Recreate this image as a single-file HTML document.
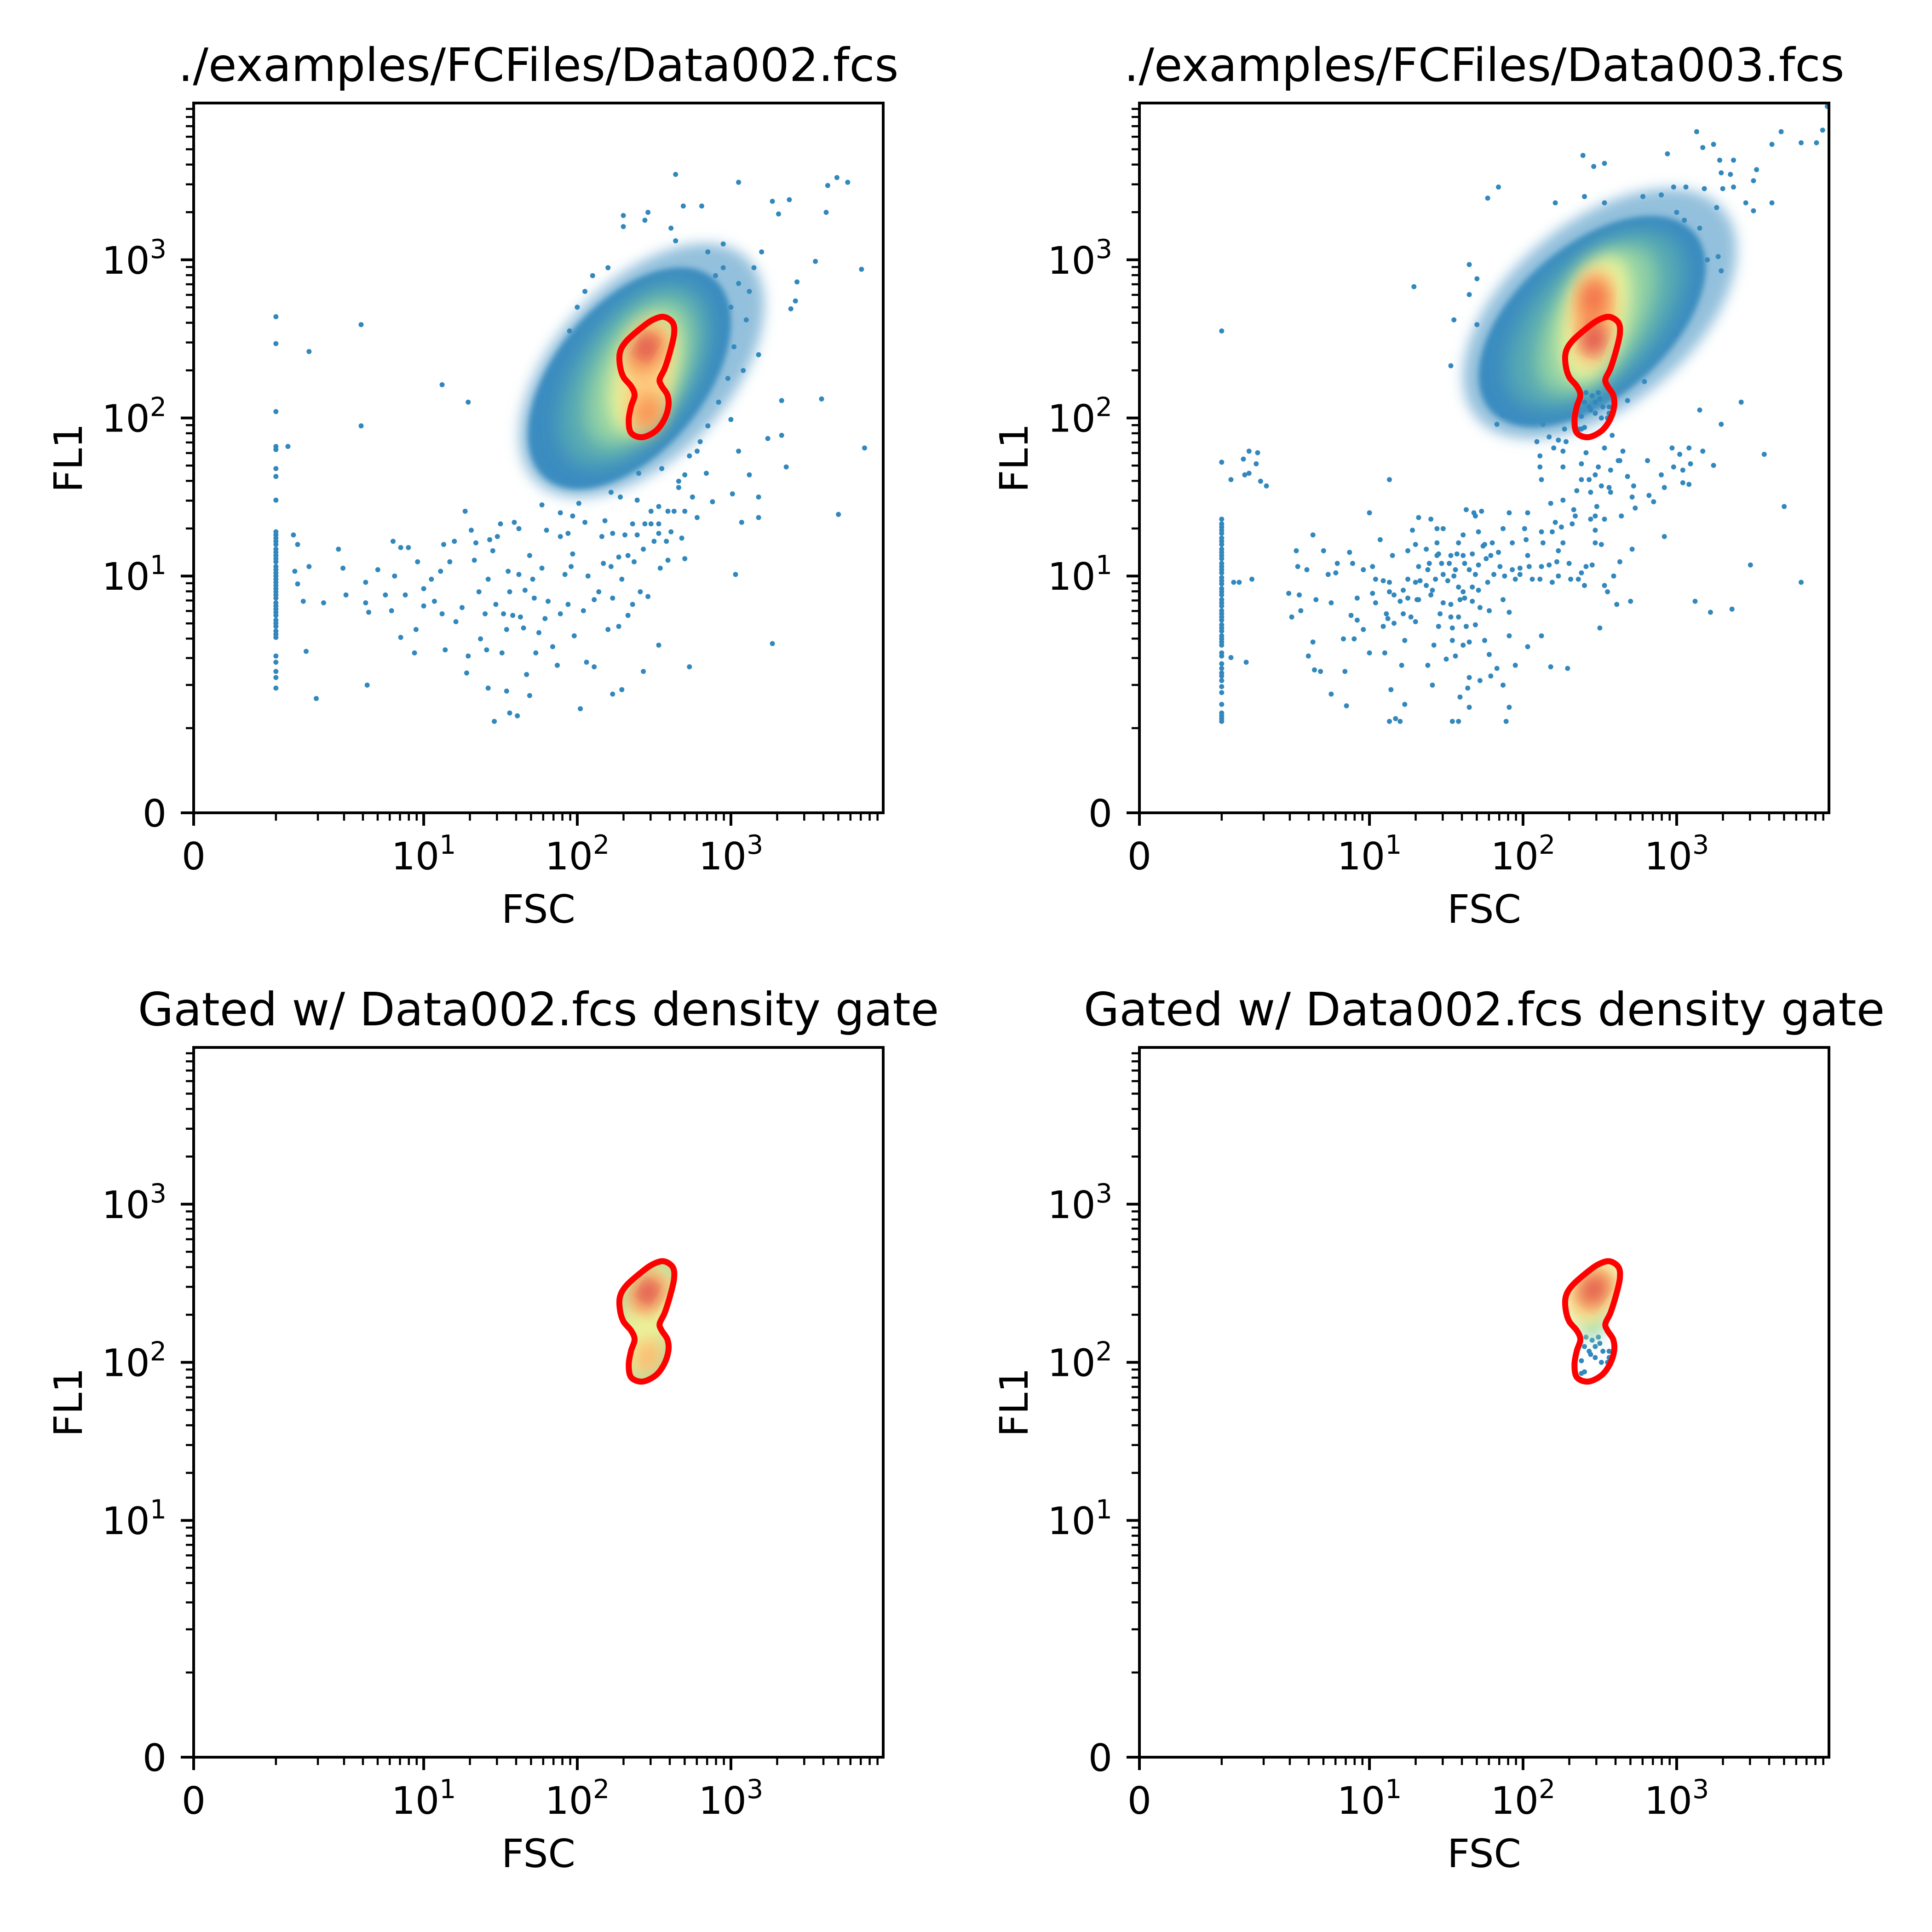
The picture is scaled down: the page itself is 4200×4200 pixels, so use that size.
<!DOCTYPE html>
<html>
<head>
<meta charset="utf-8">
<style>
html,body{margin:0;padding:0;background:#fff;}
svg{display:block;font-family:"DejaVu Sans","Liberation Sans",sans-serif;}
</style>
</head>
<body>
<svg id="fig" xmlns="http://www.w3.org/2000/svg" width="4200" height="4200" viewBox="0 0 4200 4200">
<defs>
<filter id="blurS" x="-50%" y="-50%" width="200%" height="200%"><feGaussianBlur stdDeviation="6"/></filter>
<filter id="blurM" x="-50%" y="-50%" width="200%" height="200%"><feGaussianBlur stdDeviation="14"/></filter>
<filter id="blurL" x="-50%" y="-50%" width="200%" height="200%"><feGaussianBlur stdDeviation="20"/></filter>
</defs>
<rect width="4200" height="4200" fill="#fff"/>
</svg>
<script>
// ---------- DATA (log10 of FSC, log10 of FL1); 0 => value 1 ----------
const gateFscLog = [2.564,2.622,2.630,2.607,2.570,2.536,2.550,2.587,2.593,2.564,2.507,2.421,2.350,2.335,2.350,2.373,2.350,2.301,2.278,2.278,2.321,2.421,2.493];
const gateFl1Log = [2.639,2.601,2.530,2.430,2.315,2.244,2.201,2.144,2.072,1.986,1.915,1.878,1.906,1.986,2.072,2.144,2.201,2.258,2.330,2.415,2.487,2.573,2.621];

const data002Events = [
[2.64,3.54],[3.05,3.49],[3.69,3.52],[3.76,3.49],[3.63,3.47],[3.38,3.38],[3.27,3.37],[3.31,3.29],[3.62,3.30],[2.81,3.34],[2.69,3.34],[2.46,3.30],[2.44,3.25],[2.30,3.28],[2.30,3.21],[2.61,3.20],[2.64,3.12],[3.85,2.94],[3.55,2.99],[3.43,2.86],[3.42,2.74],[3.39,2.69],[3.33,2.11],[3.59,2.12],[3.87,1.81],[3.70,1.39],[3.36,1.69],[3.33,1.89],[3.24,1.87],[3.18,1.50],[3.18,1.37],[3.12,1.64],[3.07,1.34],[3.05,1.79],[3.01,1.52],[3.03,1.01],[3.27,0.57],[3.00,1.99],[2.84,1.65],[2.88,1.47],[2.78,1.37],[2.75,1.50],[2.70,1.11],[2.53,0.56],[2.73,0.42],[2.43,0.39],[2.29,0.27],[2.23,0.24],[2.02,0.14],[1.69,0.23],[1.61,0.09],[1.56,0.11],[1.46,0.05],[1.54,0.26],[1.42,0.28],
[0,2.64],[0,2.47],[0,2.04],[0,1.82],[0,1.80],[0,1.68],[0,1.63],[0,1.48],[0,1.28],[0,1.26],[0,1.24],[0,1.22],[0,1.20],[0,1.17],[0,1.15],[0,1.13],[0,1.11],[0,1.09],[0,1.06],[0,1.04],[0,1.02],[0,1.00],[0,0.98],[0,0.96],[0,0.94],[0,0.92],[0,0.90],[0,0.88],[0,0.86],[0,0.83],[0,0.81],[0,0.79],[0,0.77],[0,0.75],[0,0.72],[0,0.70],[0,0.68],[0,0.65],[0,0.63],[0,0.61],[0,0.49],[0,0.45],[0,0.39],[0,0.35],[0,0.28],
[0.09,1.82],[0.13,1.26],[0.16,1.20],[0.14,1.03],[0.16,0.95],[0.20,0.84],[0.22,0.52],[0.29,0.21],[0.24,1.06],[0.24,2.42],[0.59,2.59],[0.59,1.95],[1.12,2.21],[1.29,2.10],[0.34,0.83],[0.44,1.17],[0.47,1.05],[0.49,0.88],[0.62,0.96],[0.62,0.83],[0.64,0.77],[0.63,0.30],[0.70,1.04],[0.75,0.88],[0.80,1.22],[0.81,1.00],[0.85,1.18],[0.90,1.18],[0.96,1.09],[0.79,0.78],[0.85,0.61],[0.88,0.88],[0.94,0.51],[0.95,0.66],[1.00,0.81],[1.00,0.92],[1.05,0.98],[1.07,0.84],[1.11,1.03],[1.12,0.76],[1.13,1.20],[1.14,0.53],[1.17,1.09],[1.20,1.22],[1.21,0.71],[1.25,0.80],[1.27,1.41],[1.28,0.38],[1.29,0.49],[1.31,1.29],[1.33,1.10],[1.34,1.21],[1.36,0.90],[1.37,0.60],[1.40,0.76],[1.41,0.53],[1.42,0.98],[1.43,1.23],[1.45,1.16],[1.47,0.82],[1.48,1.25],[1.50,1.33],[1.51,0.51],[1.52,0.76],[1.54,0.66],[1.55,1.03],[1.56,0.90],[1.58,0.75],[1.59,1.34],[1.62,1.01],[1.62,1.30],[1.63,0.74],[1.65,0.67],[1.66,0.91],[1.67,0.37],[1.69,1.13],[1.71,0.98],[1.72,0.86],[1.73,0.51],[1.75,0.64],[1.77,1.05],[1.79,0.73],[1.80,1.29],[1.81,0.84],[1.84,0.55],[1.87,0.43],[1.89,1.25],[1.89,0.76],[1.92,1.01],[1.94,0.82],[1.96,1.06],[1.97,1.14],[1.98,0.62],[2.01,1.46],[2.04,0.78],[2.06,0.45],[2.07,1.00],[2.11,0.42],[2.11,0.85],[2.14,0.90],[2.17,1.08],[2.18,1.35],[2.20,0.66],[2.22,1.06],[2.23,0.86],[2.27,0.68],[2.27,1.12],[2.29,0.98],[2.33,0.75],[2.33,1.13],[2.36,0.82],[2.37,1.09],[2.41,0.90],[2.43,1.17],[2.46,0.87],[2.48,1.33],[2.50,1.22],[2.53,1.27],[2.54,1.05],[2.58,1.22],[2.59,1.10],[2.61,1.28],[2.63,1.41],[2.66,1.60],[2.68,1.24],[2.70,1.41],[2.75,1.50],[2.39,1.26],[2.36,1.33],[2.44,1.33],[1.97,1.38],[1.89,1.40],[1.77,1.45],[1.94,1.27],[2.05,1.34],[2.16,1.25],[2.23,1.27],[2.31,1.26],[2.53,1.33],[2.22,1.53],[2.28,1.50],[2.39,1.48],[2.48,1.41],[2.53,1.44],[2.59,1.41],[2.66,1.56],[2.78,1.79],[2.70,1.64],[2.73,1.76],
[2.95,2.95],[3.05,2.85],[3.12,2.80],[3.00,2.70],[3.10,2.62],[2.90,2.90],[3.15,2.95],[3.20,3.05],[2.95,3.10],[2.85,3.05],[3.18,2.40],[3.08,2.30],[2.98,2.25],[3.02,2.45],[2.92,2.10],[2.85,1.95],[2.80,1.85],[1.95,2.55],[2.00,2.70],[2.05,2.80],[1.98,2.40],[2.10,2.90],[2.20,2.95],[2.05,2.10],[1.95,1.90],[2.10,1.75],[2.25,1.70],[2.40,1.65],[2.55,1.68]
];

const data003Events = [
[3.13,3.81],[3.24,3.73],[3.17,3.71],[3.68,3.81],[3.62,3.73],[3.81,3.74],[3.91,3.74],[3.95,3.82],[3.98,3.97],[2.94,3.67],[2.39,3.66],[2.46,3.59],[2.53,3.61],[3.28,3.63],[3.37,3.63],[3.29,3.55],[3.35,3.54],[3.52,3.57],[3.50,3.50],[3.30,3.45],[3.37,3.46],[3.62,3.36],[3.45,3.36],[3.50,3.31],[3.26,3.33],[3.27,3.02],[3.29,2.93],[3.18,3.45],[3.06,3.46],[2.98,3.46],[2.90,3.41],[2.78,3.40],[1.84,3.46],[1.77,3.39],[2.21,3.36],[2.40,3.40],[2.53,3.36],[1.65,2.97],[1.70,2.88],[1.65,2.78],[1.29,2.83],[1.55,2.62],[1.53,2.33],[1.70,2.59],[0,2.55],[3.42,2.10],[3.15,2.05],[3.29,1.96],[2.99,2.53],[2.89,2.51],[2.79,2.23],[2.68,2.11],[3.70,1.44],[3.57,1.77],[3.81,0.96],[3.48,1.07],[3.12,0.84],[3.22,0.77],[3.36,0.79],[2.70,0.84],[2.61,0.82],[2.55,0.90],[2.53,0.94],[2.59,1.00],[2.50,0.67],[2.92,1.25],[2.71,1.17],[2.29,0.41],[2.18,0.42],[2.12,0.62],[2.03,0.55],[1.95,0.43],[1.87,0.30],[1.91,0.15],[1.89,0.05],[1.58,0.05],[1.54,0.05],[1.20,0.05],[1.17,0.07],[1.13,0.05],[1.23,0.17],[1.14,0.27],[0.85,0.16],[0.75,0.24],[0.68,0.39],[0.64,0.40],[0.60,0.49],[0.63,0.58],[0.83,0.60],[0.84,0.39],[0.90,0.60],[1.00,0.51],[1.10,0.51],[1.23,0.59],[1.21,0.43],[1.38,0.43],[1.41,0.30],[1.59,0.22],[1.65,0.35],[1.64,0.28],[1.65,0.15],[1.72,0.33],[1.79,0.36],[1.83,0.41],[1.78,0.50],[1.75,0.59],[1.65,0.58],[1.61,0.56],[1.54,0.59],[1.56,0.49],[1.50,0.47],[1.42,0.56],[1.45,0.68],[1.54,0.67],[1.69,0.69],[1.63,0.68],[1.58,0.74],[1.53,0.74],[1.46,0.76],[1.48,0.83],[1.53,0.82],[1.59,0.85],[1.62,0.86],[1.67,0.84],[1.72,0.80],[1.78,0.78],[1.87,0.85],[1.91,0.77],[1.91,0.62],[1.95,0.98],[1.98,1.01],[2.06,0.98],[2.11,0.98],[2.19,0.96],[2.23,1.00],[2.31,0.98],[2.36,0.98],[2.38,1.02],[2.40,0.94],[2.41,1.06],[2.45,1.07],[2.47,1.21],[2.51,1.20],[2.47,1.29],[2.44,1.36],[2.47,1.38],[2.48,1.44],[2.53,1.36],[2.63,1.09],[2.57,1.53],[2.56,1.56],[2.51,1.57],[2.44,1.53],[2.35,1.54],[2.38,1.61],[2.43,1.61],[2.47,1.64],[2.49,1.69],[2.57,1.67],[2.63,1.73],[2.68,1.63],[2.72,1.57],[2.71,1.50],[2.73,1.43],[2.64,1.38],[2.81,1.73],[2.82,1.51],[2.85,1.47],[2.90,1.64],[2.92,1.56],[2.97,1.81],[3.02,1.77],[3.08,1.81],[3.09,1.71],[3.04,1.67],[2.98,1.69],[3.04,1.59],[3.08,1.58],[3.17,1.79],[3.24,1.70],[2.38,1.71],[2.41,1.78],[2.53,1.81],[2.62,1.73],[2.65,1.79],[2.26,1.69],[2.11,1.69],[2.12,1.61],[2.11,1.76],[2.20,1.81],[2.26,1.79],[2.09,1.85],[2.17,1.88],[2.23,1.86],[2.28,1.85],[2.27,1.93],[2.37,1.93],[2.58,1.89],[2.17,2.01],[2.13,1.96],[1.87,2.02],[1.83,1.96],[2.18,1.46],[2.26,1.48],[2.33,1.42],[2.34,1.38],[2.32,1.33],[2.25,1.31],[2.21,1.34],[2.12,1.28],[2.19,1.28],[2.13,1.21],[2.26,1.21],[2.23,1.16],[2.22,1.09],[2.30,1.08],[2.17,1.07],[2.12,1.06],[2.03,1.13],[2.04,1.06],[1.98,1.05],[1.93,1.04],[1.85,1.06],[1.79,1.13],[1.84,1.15],[1.88,1.00],[1.81,1.01],[1.77,0.96],[1.71,0.91],[1.67,0.93],[1.69,1.01],[1.71,1.07],[1.76,1.11],[1.74,1.19],[1.67,1.14],[1.61,1.13],[1.57,1.14],[1.53,1.13],[1.47,1.08],[1.44,1.13],[1.52,1.08],[1.56,1.04],[1.62,1.08],[1.65,1.04],[1.61,0.90],[1.58,0.93],[1.51,0.97],[1.55,1.00],[1.48,1.01],[1.43,0.98],[1.37,0.94],[1.33,0.97],[1.30,0.96],[1.25,0.98],[1.22,0.91],[1.16,0.88],[1.13,0.90],[1.20,0.84],[1.25,0.86],[1.31,0.85],[1.13,0.96],[1.09,0.97],[1.04,0.98],[1.02,0.89],[1.04,0.83],[1.11,0.76],[1.12,0.73],[1.16,0.70],[1.22,0.76],[1.27,0.74],[1.30,0.71],[1.32,0.85],[1.40,0.88],[1.41,0.91],[1.38,1.04],[1.32,1.06],[1.39,1.08],[1.45,1.14],[1.44,1.21],[1.37,1.17],[1.25,1.16],[1.30,1.20],[1.28,1.29],[1.32,1.37],[1.40,1.36],[1.44,1.30],[1.48,1.30],[1.58,1.21],[1.61,1.26],[1.63,1.42],[1.68,1.40],[1.69,1.38],[1.73,1.41],[1.71,1.28],[1.75,1.20],[1.80,1.21],[1.91,1.40],[2.03,1.40],[1.87,1.30],[1.93,1.21],[2.01,1.30],[2.02,1.23],[0.52,1.16],[0.53,1.06],[0.59,1.04],[0.63,1.26],[0.70,1.16],[0.73,1.01],[0.78,1.02],[0.79,1.08],[0.87,1.15],[0.89,1.08],[0.96,1.04],[1.02,1.06],[1.07,1.23],[1.15,1.13],[1.00,1.40],[1.13,1.61],[0.47,0.89],[0.54,0.88],[0.55,0.78],[0.49,0.74],[0.65,0.85],[0.75,0.83],[0.92,0.86],[0.88,0.75],[0.92,0.72],[0.96,0.66],[1.09,0.68],
[0.07,1.61],[0.17,1.64],[0.20,1.65],[0.16,1.74],[0.20,1.79],[0.26,1.78],[0.25,1.71],[0.28,1.60],[0.32,1.57],[0.09,0.96],[0.13,0.96],[0.22,0.98],[0.07,0.48],[0.18,0.45],
[0,1.72],[0,1.36],[0,1.33],[0,1.31],[0,1.29],[0,1.27],[0,1.24],[0,1.22],[0,1.20],[0,1.17],[0,1.15],[0,1.13],[0,1.11],[0,1.08],[0,1.06],[0,1.04],[0,1.02],[0,0.99],[0,0.97],[0,0.95],[0,0.92],[0,0.90],[0,0.88],[0,0.85],[0,0.83],[0,0.81],[0,0.78],[0,0.76],[0,0.74],[0,0.72],[0,0.69],[0,0.67],[0,0.65],[0,0.62],[0,0.60],[0,0.58],[0,0.56],[0,0.51],[0,0.49],[0,0.44],[0,0.41],[0,0.38],[0,0.36],[0,0.33],[0,0.29],[0,0.25],[0,0.17],[0,0.11],[0,0.09],[0,0.07],[0,0.05],
[3.05,3.25],[3.15,3.20],[3.10,3.10],[2.95,3.15],[2.85,3.20],[3.00,3.30],[3.20,3.00],[3.12,2.90],[3.05,2.75],[2.95,2.70],[2.05,2.45],[2.00,2.30],[2.10,2.20],[2.15,2.10],[2.30,2.05],[2.20,2.65],[2.25,2.80],[2.35,2.95],[2.45,3.05],[2.65,3.15]
];

// gated Data003 sparse events inside lower gate lobe
const gated003Events = [[2.40,2.10],[2.45,2.14],[2.50,2.12],[2.38,2.01],[2.43,2.07],[2.47,2.03],[2.52,2.07],[2.56,2.07],[2.55,2.00],[2.40,1.94],[2.38,1.93],[2.47,2.10],[2.51,2.00],[2.44,2.05],[2.56,2.03],[2.41,2.16],[2.49,2.16]];

// density levels: centre log10 FSC, centre log10 FL1, semi-axes (decades), tilt (deg)
const dens002Fsc = [2.42,2.34,2.37,2.40,2.43,2.45,2.45,2.46,2.45,2.46,2.45];
const dens002Fl1 = [2.30,2.25,2.27,2.28,2.28,2.26,2.43,2.04,2.44,2.03,2.45];
const dens002A   = [1.00,0.85,0.68,0.53,0.40,0.32,0.18,0.14,0.10,0.07,0.05];
const dens002B   = [0.55,0.47,0.36,0.27,0.19,0.13,0.11,0.09,0.065,0.05,0.035];
const dens002Ang = [47,50,55,60,70,78,60,70,60,70,60];

const dens003Fsc = [2.50,2.45,2.47,2.48,2.47,2.46,2.46,2.46,2.46,2.46];
const dens003Fl1 = [2.66,2.61,2.62,2.62,2.63,2.64,2.70,2.76,2.50,2.49];
const dens003A   = [1.05,0.88,0.72,0.56,0.43,0.33,0.19,0.11,0.11,0.06];
const dens003B   = [0.58,0.48,0.38,0.28,0.20,0.13,0.10,0.07,0.07,0.045];
const dens003Ang = [40,41,45,55,72,84,85,85,80,70];

const densG002Fsc = [2.45,2.45,2.46,2.46,2.46,2.46,2.46,2.46];
const densG002Fl1 = [2.25,2.26,2.44,2.04,2.44,2.03,2.44,2.45];
const densG002A   = [0.50,0.36,0.17,0.13,0.12,0.08,0.08,0.04];
const densG002B   = [0.35,0.15,0.11,0.08,0.08,0.05,0.055,0.03];
const densG002Ang = [75,75,60,70,60,70,60,60];

const densG003Fsc = [2.45,2.46,2.45,2.46,2.46,2.46];
const densG003Fl1 = [2.25,2.33,2.45,2.45,2.46,2.46];
const densG003A   = [0.10,0.14,0.26,0.17,0.12,0.07];
const densG003B   = [0.06,0.08,0.16,0.11,0.08,0.05];
const densG003Ang = [80,75,55,55,55,55];

const majorTicks = [0,10,100,1000];
const majorExp = ['', '1', '2', '3'];
const minorTicks = [1,2,3,4,5,6,7,8,9,20,30,40,50,60,70,80,90,200,300,400,500,600,700,800,900,2000,3000,4000,5000,6000,7000,8000,9000];

const titles = ['./examples/FCFiles/Data002.fcs','./examples/FCFiles/Data003.fcs','Gated w/ Data002.fcs density gate','Gated w/ Data002.fcs density gate'];

// ---------- STYLE (not data) ----------
const col002 = ['#3a8cc0','#3a8cc0','#55a8b3','#8dcfa4','#e4f49c','#fdcf82','#fca95f','#fca85f','#e3564d','#f6844f','#d23f51'];
const blur002 = ['blurM','blurS','blurL','blurL','blurL','blurL','blurL','blurL','blurL','blurL','blurL'];
const op002 = [0.55,1,1,1,1,1,1,1,1,1,1];
const col003 = ['#3a8cc0','#3a8cc0','#55a8b3','#8dcfa4','#e6f59d','#fdd084','#fba05b','#f06a47','#ea5c49','#d4434f'];
const blur003 = ['blurM','blurS','blurL','blurL','blurL','blurL','blurL','blurL','blurL','blurL'];
const op003 = [0.55,1,1,1,1,1,1,1,1,1];
const colG002 = ['#a7dba3','#e8f59c','#fdd487','#fdca7e','#f59155','#fbb067','#db4a4f','#cf3f52'];
const colG003 = ['#6cc4a6','#b0dea2','#eef7a5','#fdbf76','#f37f50','#d4424f'];

// ---------- AXES ----------
const NS = 'http://www.w3.org/2000/svg';
const svg = document.getElementById('fig');
const X0 = [421, 2477], Y0 = [224, 2277], W = 1499, H = 1543;
const LIN = 0.637, TOP = Math.asinh(9800 / 0.637);
function T(v){ return v <= 0 ? 0 : Math.asinh(v / LIN) / TOP; }
function xPix(c, v){ return X0[c] + W * T(v); }
function yPix(r, v){ return Y0[r] + H * (1 - T(v)); }
const decX = W * Math.LN10 / TOP, decY = H * Math.LN10 / TOP;
function mk(tag, attrs, parent){
  const e = document.createElementNS(NS, tag);
  for (const k in attrs) e.setAttribute(k, attrs[k]);
  (parent || svg).appendChild(e);
  return e;
}
function gatePath(c, r){
  const p = gateFscLog.map((lx, i) => [xPix(c, Math.pow(10, lx)), yPix(r, Math.pow(10, gateFl1Log[i]))]);
  const n = p.length;
  let d = 'M' + p[0][0].toFixed(1) + ',' + p[0][1].toFixed(1);
  for (let i = 0; i < n; i++){
    const a = p[(i - 1 + n) % n], b = p[i], c2 = p[(i + 1) % n], e = p[(i + 2) % n];
    const c1x = b[0] + (c2[0] - a[0]) / 6, c1y = b[1] + (c2[1] - a[1]) / 6;
    const c2x = c2[0] - (e[0] - b[0]) / 6, c2y = c2[1] - (e[1] - b[1]) / 6;
    d += 'C' + c1x.toFixed(1) + ',' + c1y.toFixed(1) + ' ' + c2x.toFixed(1) + ',' + c2y.toFixed(1) + ' ' + c2[0].toFixed(1) + ',' + c2[1].toFixed(1);
  }
  return d + 'Z';
}
function drawEvents(c, r, events, name){
  const g = mk('g', {fill: '#3288bd'});
  
  
  events.forEach(ev => {
    const dot = mk('circle', {cx: xPix(c, Math.pow(10, ev[0])).toFixed(1), cy: yPix(r, Math.pow(10, ev[1])).toFixed(1), r: 5.5}, g);
    
    
  });
}
function drawDensity(c, r, fs, fl, A, B, ang, cols, blurs, ops, name, clipId){
  const g = mk('g', clipId ? {'clip-path': 'url(#' + clipId + ')'} : {});
  
  
  const inner = mk('g', {}, g);
  for (let i = 0; i < fs.length; i++){
    const cx = xPix(c, Math.pow(10, fs[i])), cy = yPix(r, Math.pow(10, fl[i]));
    const el = mk('ellipse', {cx: 0, cy: 0, rx: (A[i] * decX).toFixed(1), ry: (B[i] * decY).toFixed(1), fill: cols[i],
      'fill-opacity': ops ? ops[i] : 1,
      transform: 'translate(' + cx.toFixed(1) + ',' + cy.toFixed(1) + ') rotate(' + (-ang[i]) + ')',
      filter: 'url(#' + (blurs ? blurs[i] : 'blurL') + ')'}, inner);
    
    
  }
}
function drawAxes(c, r, idx){
  const x0 = X0[c], y0 = Y0[r];
  minorTicks.forEach(v => {
    const x = xPix(c, v);
    const t = mk('line', {x1: x, x2: x, y1: y0 + H, y2: y0 + H + 17, stroke: '#000', 'stroke-width': 4.5});
    
    
    const y = yPix(r, v);
    const t2 = mk('line', {x1: x0, x2: x0 - 17, y1: y, y2: y, stroke: '#000', 'stroke-width': 4.5});
    
    
  });
  majorTicks.forEach((v, i) => {
    const x = xPix(c, v);
    const t = mk('line', {x1: x, x2: x, y1: y0 + H, y2: y0 + H + 28, stroke: '#000', 'stroke-width': 6});
    
    
    const lab = mk('text', {x: x, y: y0 + H + 123, 'font-size': 82, 'text-anchor': 'middle', fill: '#000'});
    
    
    const y = yPix(r, v);
    const t2 = mk('line', {x1: x0, x2: x0 - 28, y1: y, y2: y, stroke: '#000', 'stroke-width': 6});
    
    
    const lab2 = mk('text', {x: x0 - 59, y: y + 30, 'font-size': 82, 'text-anchor': 'end', fill: '#000'});
    
    
    [lab, lab2].forEach(L => {
      if (v === 0){ L.textContent = '0'; }
      else {
        const a = mk('tspan', {}, L); a.textContent = '10';
        const b = mk('tspan', {dy: -34, 'font-size': 57}, L); b.textContent = majorExp[i];
      }
    });
  });
  const frame = mk('rect', {x: x0, y: y0, width: W, height: H, fill: 'none', stroke: '#000', 'stroke-width': 6});
  
  
  const xl = mk('text', {x: x0 + W / 2, y: y0 + H + 239, 'font-size': 85, 'text-anchor': 'middle', fill: '#000'});
  xl.textContent = 'FSC';
  
  
  const yl = mk('text', {x: 0, y: 0, 'font-size': 85, 'text-anchor': 'middle', fill: '#000', transform: 'translate(' + (x0 - 243) + ',' + (y0 + H / 2) + ') rotate(-90)'});
  yl.textContent = 'FL1';
  
  
  const tt = mk('text', {x: x0 + W / 2, y: y0 - 48, 'font-size': 100, 'text-anchor': 'middle', fill: '#000'});
  tt.textContent = titles[idx];
  
  
}
function drawGate(c, r){
  const p = mk('path', {d: gatePath(c, r), fill: 'none', stroke: '#ff0000', 'stroke-width': 13, 'stroke-linejoin': 'round'});
  
  
}
function makeClip(id, c, r){
  const defs = svg.querySelector('defs');
  const cp = mk('clipPath', {id: id}, defs);
  mk('path', {d: gatePath(c, r)}, cp);
}

// Panel 1: Data002
drawEvents(0, 0, data002Events, 'data002-events');
drawDensity(0, 0, dens002Fsc, dens002Fl1, dens002A, dens002B, dens002Ang, col002, blur002, op002, 'data002-density');
drawGate(0, 0);
drawAxes(0, 0, 0);
// Panel 2: Data003
drawEvents(1, 0, data003Events, 'data003-events');
drawDensity(1, 0, dens003Fsc, dens003Fl1, dens003A, dens003B, dens003Ang, col003, blur003, op003, 'data003-density');
drawEvents(1, 0, gated003Events, 'data003-gate-events');
drawGate(1, 0);
drawAxes(1, 0, 1);
// Panel 3: gated Data002
makeClip('gateClip3', 0, 1);
drawDensity(0, 1, densG002Fsc, densG002Fl1, densG002A, densG002B, densG002Ang, colG002, null, null, 'gated-data002-density', 'gateClip3');
drawGate(0, 1);
drawAxes(0, 1, 2);
// Panel 4: gated Data003
makeClip('gateClip4', 1, 1);
drawEvents(1, 1, gated003Events, 'gated-data003-events');
drawDensity(1, 1, densG003Fsc, densG003Fl1, densG003A, densG003B, densG003Ang, colG003, null, null, 'gated-data003-density', 'gateClip4');
drawGate(1, 1);
drawAxes(1, 1, 3);
</script>
</body>
</html>
